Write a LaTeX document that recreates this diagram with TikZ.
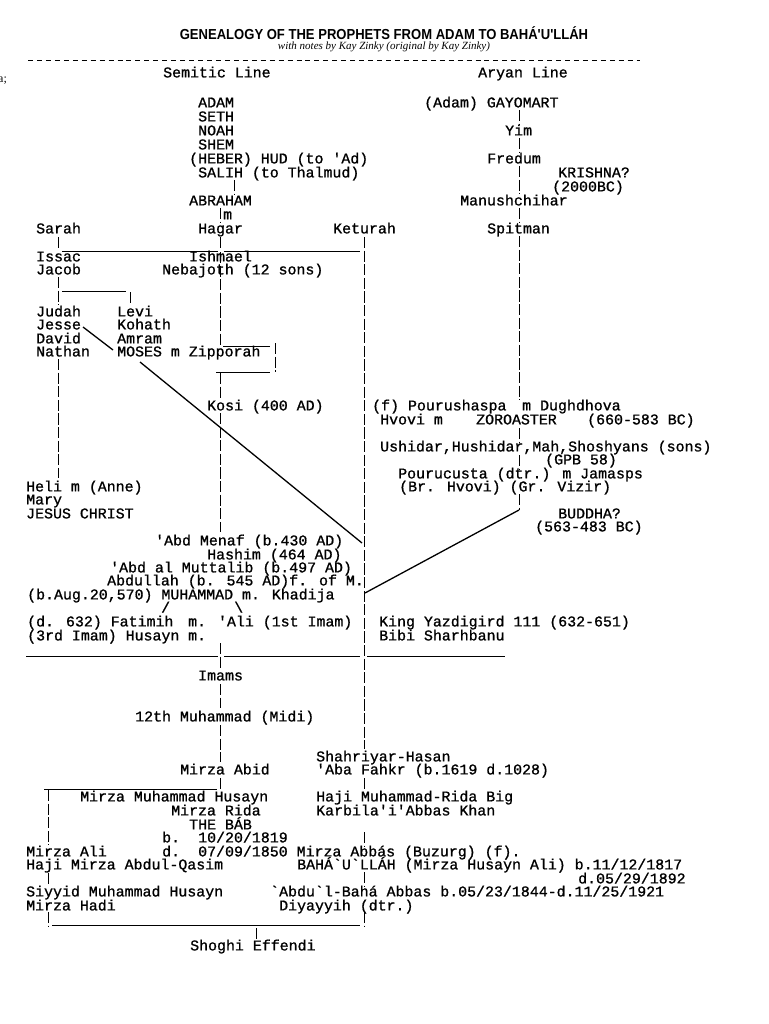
\documentclass[tikz,border=0pt]{standalone}
\usepackage{fontspec}
\setmainfont{Liberation Serif}
\newfontfamily\monof[FakeBold=1]{Liberation Mono}
\newfontfamily\titlef{Liberation Sans}
\newcounter{tn}
\newcommand{\T}[3]{\stepcounter{tn}\node[txt] (t\arabic{tn}) at (#1,-#2-4.4) {#3};}
\newcommand{\VL}[3]{\draw[pipe] (#1,-#2) -- (#1,-#3);}
\newcommand{\HL}[3]{\draw[hline] (#2,-#1) -- (#3,-#1);}
\begin{document}
\begin{tikzpicture}[x=1pt,y=1pt,
  txt/.style={anchor=base west,inner sep=0pt,font=\monof\fontsize{14.92pt}{15pt}\selectfont},
  pipe/.style={line width=0.9pt,dash pattern=on 11.2pt off 2.4pt},
  hline/.style={line width=0.9pt},
  diag/.style={line width=1.3pt}]
\useasboundingbox (0,0) rectangle (768,-1024);
% title
\node[font=\titlef\bfseries\fontsize{14.5pt}{15pt}\selectfont,inner sep=0pt] (title) at (384,-33) {\scalebox{0.9}[1]{GENEALOGY OF THE PROPHETS FROM ADAM TO BAHÁ'U'LLÁH}};
\node[font=\itshape\fontsize{11pt}{12pt}\selectfont,inner sep=0pt] (sub) at (384,-47) {with notes by Kay Zinky (original by Kay Zinky)};
\draw[line width=0.9pt,dash pattern=on 5pt off 3.95pt] (28,-60) -- (640,-60);
\node[anchor=west,inner sep=0pt,font=\fontsize{12pt}{12pt}\selectfont] (cut) at (-2,-81) {a;};
% text
\T{163}{73}{Semitic Line}
\T{478}{73}{Aryan Line}
\T{198}{103}{ADAM}
\T{424}{103}{(Adam) GAYOMART}
\T{198}{117}{SETH}
\T{198}{131}{NOAH}
\T{505}{131}{Yim}
\T{198}{145}{SHEM}
\T{189}{159}{(HEBER) HUD (to 'Ad)}
\T{487}{159}{Fredum}
\T{198}{173}{SALIH (to Thalmud)}
\T{558}{173}{KRISHNA?}
\T{552}{187}{(2000BC)}
\T{189}{201}{ABRAHAM}
\T{460}{201}{Manushchihar}
\T{223}{215}{m}
\T{36}{229}{Sarah}
\T{198}{229}{Hagar}
\T{333}{229}{Keturah}
\T{487}{229}{Spitman}
\T{36}{257}{Issac}
\T{189}{257}{Ishmael}
\T{36}{270}{Jacob}
\T{162}{270}{Nebajoth (12 sons)}
\T{36}{312}{Judah}
\T{117}{312}{Levi}
\T{36}{325}{Jesse}
\T{117}{325}{Kohath}
\T{36}{339}{David}
\T{117}{339}{Amram}
\T{36}{352}{Nathan}
\T{117}{352}{MOSES m Zipporah}
\T{207}{406}{Kosi (400 AD)}
\T{372}{406}{(f) Pourushaspa}
\T{522}{406}{m Dughdhova}
\T{380}{420}{Hvovi m}
\T{476}{420}{ZOROASTER}
\T{587}{420}{(660-583 BC)}
\T{380}{447}{Ushidar,Hushidar,Mah,Shoshyans (sons)}
\T{545}{460}{(GPB 58)}
\T{398}{474}{Pourucusta (dtr.) m Jamasps}
\T{26}{487}{Heli m (Anne)}
\T{399}{487}{(Br. Hvovi) (Gr. Vizir)}
\T{26}{500}{Mary}
\T{26}{514}{JESUS CHRIST}
\T{558}{514}{BUDDHA?}
\T{535}{527}{(563-483 BC)}
\T{155}{541}{'Abd Menaf (b.430 AD)}
\T{207}{555}{Hashim (464 AD)}
\T{110}{568}{'Abd al Muttalib (b.497 AD)}
\T{107}{581}{Abdullah (b. 545 AD)f. of M.}
\T{27}{595}{(b.Aug.20,570) MUHAMMAD m. Khadija}
\T{161}{608}{/}
\T{234}{608}{\textbackslash}
\T{27}{622}{(d.  632) Fatimih}
\T{188}{622}{m. 'Ali (1st Imam)}
\T{379}{622}{King Yazdigird 111 (632-651)}
\T{27}{636}{(3rd Imam) Husayn}
\T{188}{636}{m.}
\T{379}{636}{Bibi Sharhbanu}
\T{198}{676}{Imams}
\T{135}{717}{12th Muhammad (Midi)}
\T{316}{757}{Shahriyar-Hasan}
\T{180}{770}{Mirza Abid}
\T{316}{770}{'Aba Fahkr (b.1619 d.1028)}
\T{80}{797}{Mirza Muhammad Husayn}
\T{316}{797}{Haji Muhammad-Rida Big}
\T{171}{811}{Mirza Rida}
\T{316}{811}{Karbila'i'Abbas Khan}
\T{189}{825}{THE BÁB}
\T{162}{838}{b.}
\T{198}{838}{10/20/1819}
\T{26}{852}{Mirza Ali}
\T{162}{852}{d.}
\T{198}{852}{07/09/1850 Mirza Abbás (Buzurg) (f).}
\T{26}{865}{Haji Mirza Abdul-Qasim}
\T{297}{865}{BAHÁ`U`LLÁH (Mirza Husayn Ali) b.11/12/1817}
\T{578}{879}{d.05/29/1892}
\T{26}{892}{Siyyid Muhammad Husayn}
\T{270}{892}{`Abdu`l-Bahá Abbas b.05/23/1844-d.11/25/1921}
\T{26}{906}{Mirza Hadi}
\T{279}{906}{Diyayyih (dtr.)}
\T{190}{946}{Shoghi Effendi}
% Aryan vertical
\VL{519}{110}{124}\VL{519}{138}{152}\VL{519}{166}{194}\VL{519}{208}{222}
\VL{519}{236}{400}\VL{519}{428}{442}\VL{519}{455}{469}\VL{519}{494}{510}
% Semitic verticals
\VL{234}{180}{194}\VL{220}{208}{222}
\VL{58}{237}{250}\VL{220}{237}{250}\VL{364}{237}{749}
\VL{58}{277}{305}\VL{220}{252}{345}\VL{130}{292}{303}
\VL{275}{343}{372}\VL{220}{373}{398}\VL{220}{413}{532}
\VL{58}{359}{478}
\VL{220}{643}{668}\VL{220}{684}{708}\VL{220}{725}{762}\VL{220}{778}{790}
\VL{364}{778}{790}\VL{364}{832}{846}\VL{364}{872}{886}\VL{364}{912}{926}
\VL{48}{790}{845}\VL{48}{873}{886}\VL{48}{912}{926}\VL{256}{928}{940}
% horizontals
\HL{251.5}{62}{218}\HL{251.5}{224}{360}
\HL{291.7}{62}{126}
\HL{346}{223}{270}\HL{372.5}{216}{270}
\HL{656.5}{26}{218}\HL{656.5}{224}{360}\HL{656.5}{367}{505}
\HL{789}{44}{217}
\HL{925}{52}{360}
% diagonals
\coordinate (d1) at (83,-327);\coordinate (d2) at (113,-350);
\coordinate (d3) at (140,-362);\coordinate (d4) at (362,-543);
\coordinate (d5) at (365,-593);\coordinate (d6) at (519,-510);
\draw[diag] (d1) -- (d2);\draw[diag] (d3) -- (d4);\draw[diag] (d5) -- (d6);
\end{tikzpicture}
\end{document}
